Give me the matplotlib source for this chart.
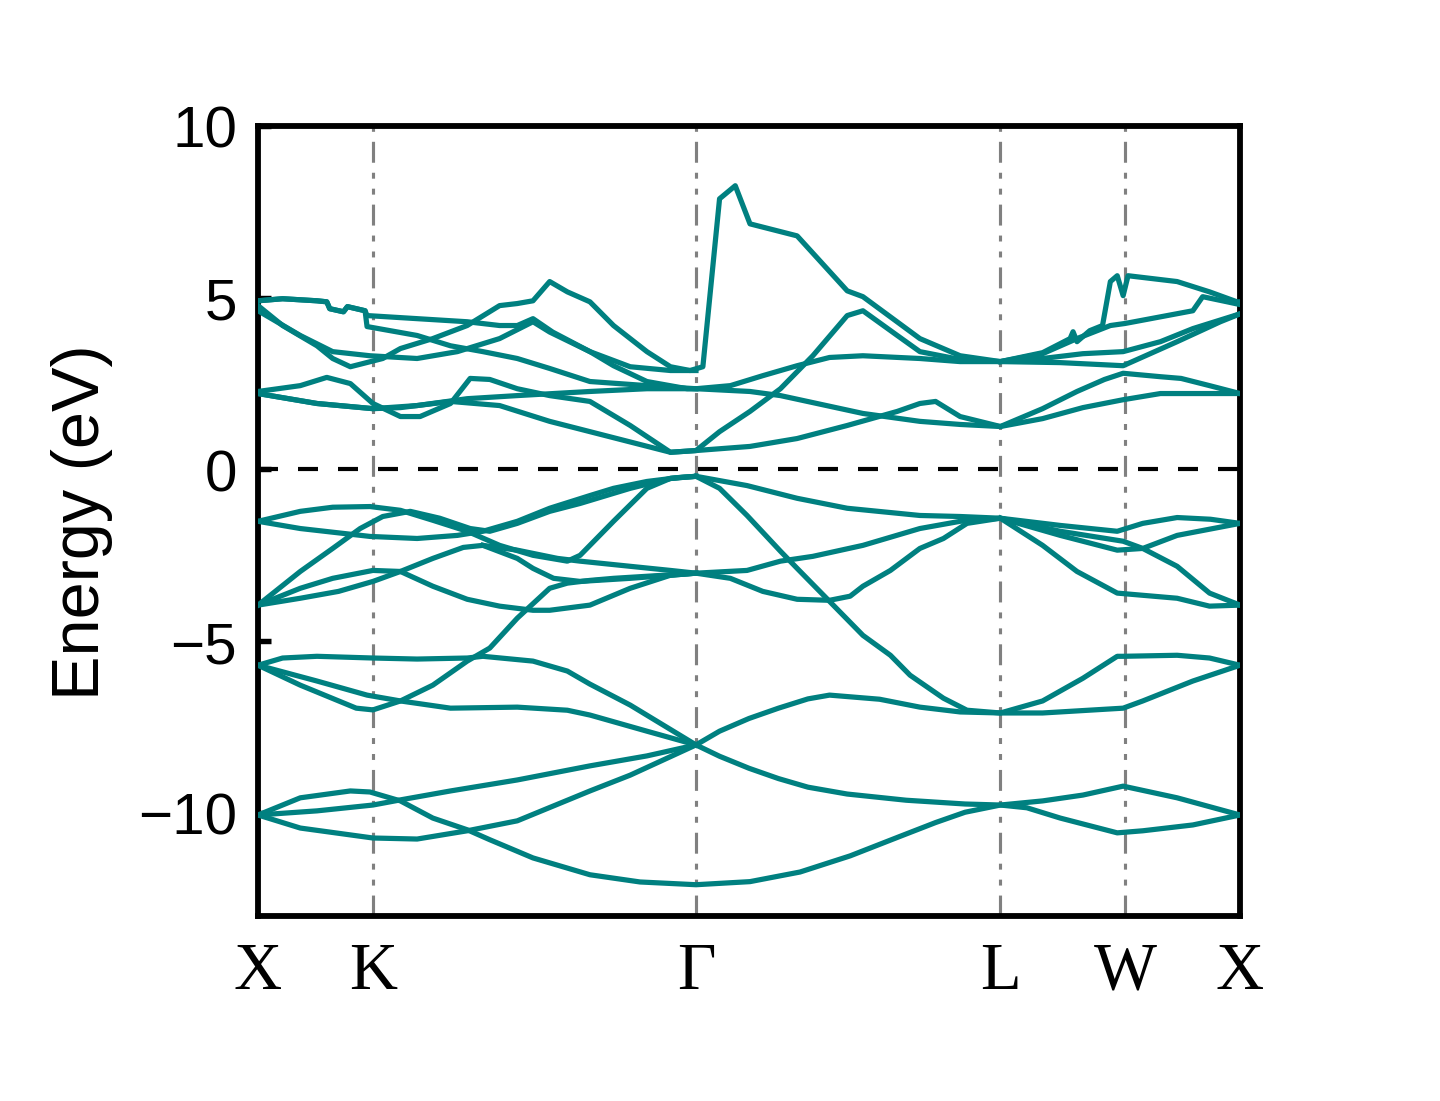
import numpy as np
import matplotlib
matplotlib.use("Agg")
import matplotlib.pyplot as plt

# high-symmetry points along the path (fraction of path length)
kpoints = [0.0, 0.117, 0.446, 0.756, 0.883, 1.0]
klabels = ["X", "K", "Γ", "L", "W", "X"]
yticks = [10, 5, 0, -5, -10]

# bands: (k, E in eV)
deep_bands = [
    [(0, -10.06), (0.043, -9.56), (0.094, -9.36), (0.114, -9.39), (0.145, -9.65), (0.178, -10.15),
     (0.213, -10.49), (0.236, -10.78), (0.280, -11.31), (0.338, -11.80), (0.389, -12.01), (0.446, -12.09),
     (0.501, -12.00), (0.552, -11.72), (0.603, -11.25), (0.654, -10.68), (0.690, -10.28), (0.720, -9.98),
     (0.756, -9.77), (0.783, -9.85), (0.817, -10.15), (0.875, -10.58), (0.901, -10.52), (0.952, -10.35),
     (1.0, -10.06)],
    [(0, -10.06), (0.060, -9.94), (0.117, -9.77), (0.145, -9.62), (0.196, -9.36), (0.264, -9.04),
     (0.338, -8.63), (0.396, -8.34), (0.446, -8.02), (0.470, -8.35), (0.500, -8.70), (0.530, -9.00),
     (0.560, -9.25), (0.600, -9.45), (0.660, -9.63), (0.720, -9.74), (0.756, -9.77), (0.799, -9.65),
     (0.840, -9.48), (0.881, -9.22), (0.936, -9.56), (1.0, -10.06)],
    [(0, -10.06), (0.043, -10.44), (0.117, -10.73), (0.162, -10.76), (0.213, -10.52), (0.264, -10.23),
     (0.338, -9.36), (0.379, -8.90), (0.446, -8.02), (0.470, -7.62), (0.500, -7.25), (0.530, -6.95),
     (0.560, -6.68), (0.582, -6.57), (0.633, -6.69), (0.674, -6.92), (0.715, -7.06), (0.756, -7.09),
     (0.799, -7.09), (0.881, -6.95), (0.901, -6.74), (0.952, -6.16), (1.0, -5.70)],
    [(0, -5.70), (0.025, -5.49), (0.060, -5.44), (0.117, -5.49), (0.162, -5.52), (0.213, -5.49),
     (0.229, -5.44), (0.280, -5.58), (0.315, -5.87), (0.338, -6.25), (0.379, -6.86), (0.446, -8.02)],
    [(0, -5.70), (0.060, -6.16), (0.111, -6.57), (0.145, -6.74), (0.196, -6.95), (0.264, -6.92),
     (0.315, -7.01), (0.338, -7.15), (0.396, -7.62), (0.446, -8.02)],
    [(0, -5.70), (0.043, -6.28), (0.100, -6.95), (0.117, -7.00), (0.145, -6.74), (0.178, -6.28),
     (0.213, -5.58), (0.236, -5.20), (0.264, -4.33), (0.297, -3.46), (0.315, -3.31), (0.338, -3.23),
     (0.362, -3.17), (0.413, -3.08), (0.446, -3.02)],
]

valence_bands = [
    # steep band from the VBM down to L
    [(0.446, -0.20), (0.470, -0.55), (0.498, -1.34), (0.532, -2.38), (0.549, -2.88), (0.582, -3.84),
     (0.616, -4.83), (0.644, -5.41), (0.664, -5.99), (0.698, -6.66), (0.722, -7.01), (0.756, -7.09),
     (0.799, -6.74), (0.840, -6.08), (0.875, -5.44), (0.881, -5.44), (0.936, -5.41), (0.969, -5.49),
     (1.0, -5.70)],
    [(0, -1.51), (0.043, -1.22), (0.076, -1.10), (0.114, -1.08), (0.145, -1.19), (0.178, -1.48),
     (0.213, -1.80), (0.246, -2.21), (0.280, -2.50), (0.315, -2.67), (0.328, -2.50), (0.362, -1.51),
     (0.396, -0.55), (0.420, -0.26), (0.446, -0.20), (0.498, -0.47), (0.549, -0.84), (0.600, -1.13),
     (0.674, -1.34), (0.715, -1.37), (0.756, -1.42), (0.817, -1.63), (0.875, -1.80), (0.901, -1.57),
     (0.936, -1.40), (0.970, -1.45), (1.0, -1.57)],
    [(0, -1.51), (0.043, -1.72), (0.114, -1.95), (0.162, -2.01), (0.203, -1.92), (0.229, -1.80),
     (0.264, -1.51), (0.297, -1.13), (0.338, -0.76), (0.362, -0.55), (0.396, -0.35), (0.430, -0.23),
     (0.446, -0.20)],
    [(0, -3.95), (0.043, -2.97), (0.076, -2.30), (0.104, -1.72), (0.127, -1.37), (0.155, -1.22),
     (0.185, -1.42), (0.216, -1.72), (0.236, -1.80), (0.264, -1.57), (0.297, -1.22), (0.328, -0.99),
     (0.379, -0.55), (0.420, -0.26), (0.446, -0.20)],
    [(0, -3.95), (0.043, -3.46), (0.076, -3.17), (0.117, -2.94), (0.145, -2.97), (0.178, -3.40),
     (0.213, -3.78), (0.246, -3.98), (0.280, -4.10), (0.297, -4.10), (0.338, -3.95), (0.379, -3.46),
     (0.420, -3.08), (0.446, -3.02), (0.498, -2.94), (0.532, -2.67), (0.565, -2.53), (0.616, -2.21),
     (0.674, -1.72), (0.715, -1.51), (0.756, -1.42), (0.817, -1.80), (0.881, -2.09), (0.901, -2.30),
     (0.936, -1.92), (1.0, -1.57)],
    [(0, -3.95), (0.043, -3.75), (0.082, -3.55), (0.117, -3.26), (0.145, -2.97), (0.178, -2.59),
     (0.209, -2.27), (0.229, -2.21), (0.264, -2.35), (0.305, -2.59), (0.328, -2.67), (0.379, -2.82),
     (0.420, -2.94), (0.446, -3.02), (0.481, -3.17), (0.514, -3.55), (0.549, -3.78), (0.582, -3.81),
     (0.603, -3.69), (0.616, -3.40), (0.644, -2.94), (0.674, -2.30), (0.698, -2.01), (0.722, -1.57),
     (0.756, -1.42), (0.817, -1.92), (0.875, -2.35), (0.901, -2.30), (0.936, -2.82), (0.969, -3.60),
     (1.0, -3.95)],
    [(0.229, -2.21), (0.264, -2.59), (0.280, -2.88), (0.301, -3.17), (0.328, -3.26), (0.379, -3.17),
     (0.420, -3.08), (0.446, -3.02)],
    [(0.756, -1.42), (0.799, -2.21), (0.834, -2.97), (0.875, -3.60), (0.936, -3.75), (0.969, -3.98),
     (1.0, -3.95)],
]

conduction_bands = [
    [(0, 2.27), (0.043, 2.44), (0.070, 2.68), (0.094, 2.50), (0.117, 1.92), (0.145, 1.54),
     (0.165, 1.54), (0.196, 1.92), (0.216, 2.65), (0.236, 2.62), (0.264, 2.35), (0.297, 2.15),
     (0.338, 1.98), (0.379, 1.28), (0.420, 0.50), (0.446, 0.55), (0.501, 0.67), (0.549, 0.90),
     (0.600, 1.28), (0.651, 1.69), (0.674, 1.92), (0.690, 1.98), (0.715, 1.54), (0.756, 1.25),
     (0.799, 1.77), (0.834, 2.27), (0.862, 2.62), (0.881, 2.80), (0.919, 2.70), (0.940, 2.65),
     (0.969, 2.44), (1.0, 2.21)],
    [(0, 2.21), (0.060, 1.92), (0.117, 1.77), (0.162, 1.86), (0.213, 2.06), (0.264, 2.15),
     (0.338, 2.27), (0.396, 2.35), (0.446, 2.35), (0.501, 2.27), (0.532, 2.15), (0.616, 1.63),
     (0.674, 1.40), (0.715, 1.31), (0.756, 1.25), (0.799, 1.48), (0.840, 1.80), (0.881, 2.03),
     (0.919, 2.21), (0.952, 2.21), (1.0, 2.21)],
    [(0, 2.21), (0.060, 1.92), (0.117, 1.77), (0.145, 1.80), (0.196, 1.98), (0.246, 1.86),
     (0.297, 1.40), (0.338, 1.10), (0.379, 0.80), (0.420, 0.50), (0.446, 0.55), (0.470, 1.10),
     (0.501, 1.69), (0.532, 2.35), (0.565, 3.31), (0.600, 4.48), (0.616, 4.62), (0.651, 3.90),
     (0.674, 3.43), (0.715, 3.20), (0.756, 3.14), (0.817, 3.11), (0.860, 3.05), (0.881, 3.02),
     (0.936, 3.72), (0.980, 4.30), (1.0, 4.53)],
    [(0, 4.91), (0.025, 4.97), (0.060, 4.91), (0.070, 4.88), (0.073, 4.68), (0.087, 4.59),
     (0.091, 4.74), (0.109, 4.62), (0.111, 4.48), (0.162, 4.39), (0.213, 4.30), (0.246, 4.19),
     (0.264, 4.19), (0.280, 4.39), (0.300, 4.00), (0.338, 3.43), (0.362, 3.02), (0.396, 2.56),
     (0.437, 2.35), (0.446, 2.35), (0.481, 2.44), (0.514, 2.73), (0.549, 3.02), (0.582, 3.26),
     (0.616, 3.31), (0.674, 3.23), (0.715, 3.14), (0.756, 3.14), (0.799, 3.23), (0.840, 3.37),
     (0.881, 3.43), (0.919, 3.72), (0.952, 4.10), (1.0, 4.53)],
    [(0, 4.91), (0.025, 4.97), (0.060, 4.91), (0.070, 4.88), (0.073, 4.68), (0.087, 4.59),
     (0.091, 4.74), (0.109, 4.62), (0.111, 4.16), (0.162, 3.90), (0.196, 3.60), (0.229, 3.43),
     (0.264, 3.23), (0.297, 2.94), (0.338, 2.56), (0.396, 2.44), (0.446, 2.35)],
    [(0, 4.77), (0.025, 4.19), (0.060, 3.60), (0.076, 3.23), (0.094, 2.99), (0.127, 3.23),
     (0.145, 3.52), (0.178, 3.81), (0.213, 4.19), (0.246, 4.77), (0.264, 4.83), (0.280, 4.91),
     (0.297, 5.47), (0.315, 5.17), (0.338, 4.88), (0.362, 4.19), (0.396, 3.43), (0.420, 2.99),
     (0.440, 2.88), (0.453, 2.99), (0.470, 7.88), (0.486, 8.26), (0.501, 7.15), (0.549, 6.80),
     (0.600, 5.20), (0.616, 5.03), (0.674, 3.81), (0.715, 3.31), (0.756, 3.14), (0.799, 3.40),
     (0.827, 3.81), (0.830, 4.01), (0.834, 3.72), (0.847, 4.04), (0.860, 4.19), (0.868, 5.47),
     (0.875, 5.64), (0.881, 5.06), (0.886, 5.64), (0.936, 5.47), (0.969, 5.17), (0.997, 4.88),
     (1.0, 4.88)],
    [(0, 4.62), (0.043, 3.90), (0.076, 3.43), (0.114, 3.31), (0.162, 3.23), (0.203, 3.43),
     (0.246, 3.81), (0.280, 4.30), (0.297, 4.00), (0.338, 3.43), (0.379, 2.99), (0.420, 2.88),
     (0.446, 2.88)],
    [(0.756, 3.14), (0.799, 3.37), (0.834, 3.81), (0.868, 4.19), (0.883, 4.25), (0.952, 4.62),
     (0.962, 5.03), (0.987, 4.88), (1.0, 4.80)],
]

band_color = "#008080"

fig = plt.figure(figsize=(4.8, 3.6733), dpi=300)
ax = fig.add_axes([0.1792, 0.1679, 0.6819, 0.7169])

for band in deep_bands + valence_bands + conduction_bands:
    k, e = zip(*band)
    ax.plot(k, e, color=band_color, lw=1.25, solid_joinstyle="round", zorder=3)

# symmetry lines and Fermi level
for kp in kpoints[1:-1]:
    ax.axvline(kp, color="gray", lw=0.75, ls=(0, (6.7, 3.2, 1.9, 3.2, 1.9, 3.2)), zorder=1)
ax.axhline(0, color="black", lw=1.0, ls=(0, (4.8, 4.8)), zorder=2)

ax.set_xlim(0, 1)
ax.set_ylim(-13, 10)
ax.set_xticks(kpoints)
ax.set_xticklabels(klabels, fontfamily="Liberation Serif", fontsize=16)
ax.set_yticks(yticks)
ax.set_yticklabels([str(v).replace("-", "\u2212") for v in yticks],
                   fontfamily="Liberation Sans", fontsize=14)
ax.tick_params(axis="x", length=0, pad=6)
ax.tick_params(axis="y", direction="in", length=3, width=1.3, pad=5)
for s in ax.spines.values():
    s.set_linewidth(1.4)

ax.set_ylabel("Energy (eV)", fontfamily="Liberation Sans", fontsize=16, labelpad=6)

fig.savefig("out.png", dpi=300)
